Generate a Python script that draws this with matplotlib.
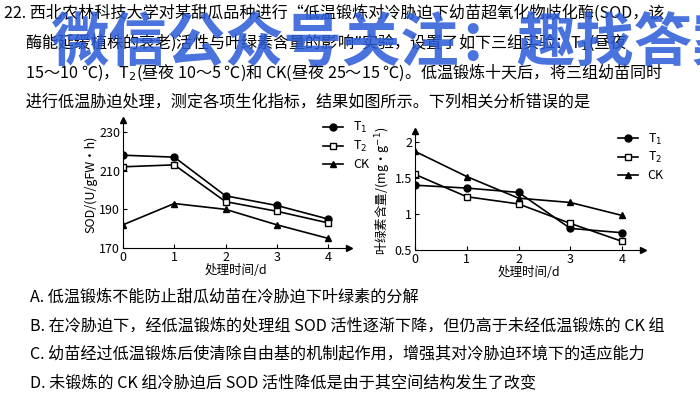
import matplotlib
matplotlib.use('Agg')
import matplotlib.pyplot as plt

plt.rcParams['font.family'] = ['Noto Sans CJK SC']

days = [0, 1, 2, 3, 4]
# SOD活性
sod_t1 = [218, 217, 197, 192, 185]
sod_t2 = [212, 213, 194, 189, 183]
sod_ck = [182, 193, 190, 182, 175]
# 叶绿素含量
chl_t1 = [1.40, 1.36, 1.30, 0.80, 0.74]
chl_t2 = [1.55, 1.24, 1.14, 0.87, 0.62]
chl_ck = [1.87, 1.52, 1.22, 1.16, 0.98]

top_lines = [
    '22. 西北农林科技大学对某甜瓜品种进行“低温锻炼对冷胁迫下幼苗超氧化物歧化酶(SOD，该',
    '      酶能延缓植株的衰老)活性与叶绿素含量的影响”实验，设置了如下三组实验：T$_1$(昼夜',
    '      15～10 ℃)，T$_2$(昼夜 10～5 ℃)和 CK(昼夜 25～15 ℃)。低温锻炼十天后，将三组幼苗同时',
    '      进行低温胁迫处理，测定各项生化指标，结果如图所示。下列相关分析错误的是',
]
options = [
    'A. 低温锻炼不能防止甜瓜幼苗在冷胁迫下叶绿素的分解',
    'B. 在冷胁迫下，经低温锻炼的处理组 SOD 活性逐渐下降，但仍高于未经低温锻炼的 CK 组',
    'C. 幼苗经过低温锻炼后使清除自由基的机制起作用，增强其对冷胁迫环境下的适应能力',
    'D. 未锻炼的 CK 组冷胁迫后 SOD 活性降低是由于其空间结构发生了改变',
]

W, H = 700, 403
fig = plt.figure(figsize=(7, 4.03), dpi=100)

for i, s in enumerate(top_lines):
    fig.text(4 / W, 1 - (13 + 29.5 * i) / H, s, fontsize=11.6, va='center')
for i, s in enumerate(options):
    fig.text(30 / W, 1 - (297 + 28.7 * i) / H, s, fontsize=11.6, va='center')
fig.text(50 / W, 1 - 44 / H, '微信公众号关注：趣找答案', fontsize=42, color='#2a5bd7',
         alpha=0.85, va='center', fontweight='bold')


def draw(ax, t1, t2, ck, ylim, yticks, ylabel):
    ax.plot(days, t1, 'k-', marker='o', ms=5, lw=1.2, label='T$_1$')
    ax.plot(days, t2, 'k-', marker='s', ms=5, mfc='white', lw=1.2, label='T$_2$')
    ax.plot(days, ck, 'k-', marker='^', ms=5, lw=1.2, label='CK')
    ax.set_xlim(0, 4.4)
    ax.set_ylim(*ylim)
    ax.set_xticks(days)
    ax.set_yticks(yticks)
    ax.set_yticklabels([f'{v:g}' for v in yticks])
    for s in ['top', 'right']:
        ax.spines[s].set_visible(False)
    ax.plot(1, 0, '>k', transform=ax.transAxes, clip_on=False, ms=5)
    ax.plot(0, 1, '^k', transform=ax.transAxes, clip_on=False, ms=5)
    ax.tick_params(labelsize=9, length=3, direction='in', pad=2)
    ax.set_xlabel('处理时间/d', fontsize=9, labelpad=0)
    ax.set_ylabel(ylabel, fontsize=9, labelpad=1)
    ax.legend(loc='upper right', bbox_to_anchor=(1.12, 1.05), frameon=False,
              fontsize=9, handlelength=1.6, labelspacing=0.3, borderpad=0)


ax1 = fig.add_axes([123 / W, 1 - 248 / H, 225.5 / W, 127.6 / H])
draw(ax1, sod_t1, sod_t2, sod_ck, (170, 236), [170, 190, 210, 230], 'SOD/(U/gFW·h)')
ax2 = fig.add_axes([415 / W, 1 - 250 / H, 227.7 / W, 118.8 / H])
draw(ax2, chl_t1, chl_t2, chl_ck, (0.5, 2.15), [0.5, 1, 1.5, 2], '叶绿素含量/(mg·g$^{-1}$)')

fig.savefig('out.png', dpi=100)
